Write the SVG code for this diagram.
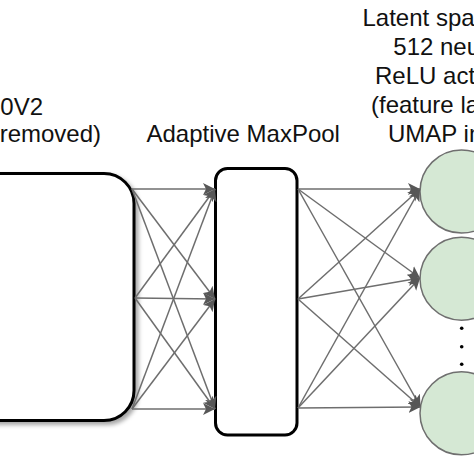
<svg xmlns="http://www.w3.org/2000/svg" width="474" height="474" viewBox="0 0 474 474">
<style>
.lbl{font-family:"Liberation Sans",Arial,sans-serif;font-size:24px;fill:#111}
.box{fill:#fff;stroke:#000;stroke-width:3}
.neuron{fill:#d5e8d4;stroke:#6f6f6f;stroke-width:1.5}
.conn line{stroke:#6e6e6e;stroke-width:1.5;fill:none;marker-end:url(#ah)}
</style>
<defs>
<marker id="ah" markerUnits="userSpaceOnUse" markerWidth="13" markerHeight="13" refX="12" refY="6.5" orient="auto" viewBox="0 0 13 13">
<path d="M0,0.5 L12,6.5 L0,12.5 L3,6.5 z" fill="#575757"/>
</marker>
<filter id="sh" x="-20%" y="-20%" width="150%" height="150%">
<feDropShadow dx="3" dy="3" stdDeviation="2" flood-color="#000" flood-opacity="0.35"/>
</filter>
</defs>
<rect width="474" height="474" fill="#fff"/>

<g id="backbone">
<rect class="box" x="-120" y="173.5" width="254" height="247" rx="30" ry="30" filter="url(#sh)"/>
<text class="lbl" x="43" y="115" text-anchor="end">ResNet50V2</text>
<text class="lbl" x="101" y="142" text-anchor="end">(top removed)</text>
</g>

<g id="maxpool">
<rect class="box" x="215.5" y="168.5" width="81.5" height="266.5" rx="12" ry="12"/>
<text class="lbl" x="146.5" y="142">Adaptive MaxPool</text>
</g>

<g id="latent">
<text class="lbl" x="362.5" y="26">Latent space</text>
<text class="lbl" x="393.3" y="55">512 neurons</text>
<text class="lbl" x="375" y="84">ReLU activation</text>
<text class="lbl" x="371" y="113">(feature layer for</text>
<text class="lbl" x="388" y="142">UMAP input)</text>
</g>

<g id="neuron1"><circle class="neuron" cx="461.5" cy="191.5" r="41.5"/></g>
<g id="neuron2"><circle class="neuron" cx="461.5" cy="278.7" r="41.5"/></g>
<g id="neuron3"><circle class="neuron" cx="461.5" cy="413.3" r="41.5"/></g>
<g id="ellipsis" fill="#000">
<circle cx="461.7" cy="328.3" r="1.8"/>
<circle cx="461.7" cy="346.7" r="1.8"/>
<circle cx="461.7" cy="364.3" r="1.8"/>
</g>

<g id="connectors" class="conn">
<line x1="132" y1="189" x2="215" y2="189"/>
<line x1="132" y1="189" x2="215" y2="299"/>
<line x1="132" y1="189" x2="215" y2="409"/>
<line x1="135" y1="298" x2="215" y2="189"/>
<line x1="135" y1="298" x2="215" y2="299"/>
<line x1="135" y1="298" x2="215" y2="409"/>
<line x1="132" y1="409" x2="215" y2="189"/>
<line x1="132" y1="409" x2="215" y2="299"/>
<line x1="132" y1="409" x2="215" y2="409"/>

<line x1="298" y1="189" x2="420" y2="189"/>
<line x1="298" y1="189" x2="420" y2="278"/>
<line x1="298" y1="189" x2="420.5" y2="407"/>
<line x1="298" y1="299" x2="420" y2="189"/>
<line x1="298" y1="299" x2="420" y2="278"/>
<line x1="298" y1="299" x2="420.5" y2="407"/>
<line x1="298" y1="408" x2="420" y2="189"/>
<line x1="298" y1="408" x2="420" y2="278"/>
<line x1="298" y1="408" x2="420.5" y2="407"/>
</g>
</svg>
